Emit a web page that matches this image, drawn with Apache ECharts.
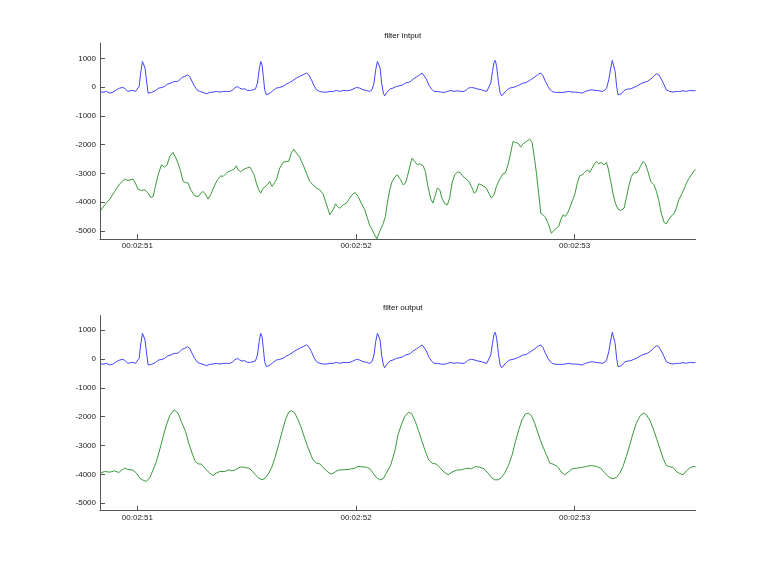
<!DOCTYPE html>
<html>
<head>
<meta charset="utf-8">
<script src="https://cdn.jsdelivr.net/npm/echarts@6/dist/echarts.min.js"></script>
<style>html,body{margin:0;padding:0;background:#fff;}#c{width:769px;height:574px;}</style>
</head>
<body>
<div id="c"></div>
<script>
// time in seconds (00:02:50 = 170 s)
const timeTicks = [171, 172, 173];
const timeTickLabels = ['00:02:51', '00:02:52', '00:02:53'];
const valueTicks = [-5000, -4000, -3000, -2000, -1000, 0, 1000];
const titles = ['filter intput', 'filter output'];

// blue trace (same in both panels)
const ecgSignal = [
[170.829,-151],[170.843,-185],[170.858,-151],[170.874,-209],[170.889,-174],[170.904,-93],[170.919,-35],[170.935,-12],[170.945,-70],[170.957,-151],[170.968,-127],[170.980,-116],[170.991,-151],[171.000,-162],[171.008,23],[171.015,487],[171.023,892],[171.029,927],[171.035,660],[171.043,139],[171.049,-209],[171.057,-266],[171.064,-185],[171.076,-151],[171.087,-93],[171.098,-35],[171.113,-12],[171.125,23],[171.137,104],[171.153,139],[171.168,197],[171.183,197],[171.194,255],[171.204,336],[171.217,371],[171.229,429],[171.239,371],[171.250,197],[171.262,23],[171.275,-116],[171.285,-151],[171.300,-185],[171.316,-232],[171.331,-185],[171.346,-174],[171.361,-151],[171.377,-174],[171.392,-151],[171.407,-151],[171.422,-151],[171.433,-116],[171.445,-35],[171.457,23],[171.468,-35],[171.479,-70],[171.491,-58],[171.503,-116],
[171.518,-116],[171.529,-93],[171.540,-70],[171.549,139],[171.557,603],[171.564,892],[171.570,776],[171.576,371],[171.582,-93],[171.590,-266],[171.598,-301],[171.607,-209],[171.621,-116],[171.636,-35],[171.651,-12],[171.666,23],[171.681,104],[171.697,162],[171.712,232],[171.727,313],[171.742,371],[171.758,429],[171.773,487],[171.784,429],[171.796,255],[171.808,46],[171.819,-93],[171.834,-151],[171.849,-174],[171.864,-174],[171.880,-151],[171.895,-151],[171.910,-116],[171.925,-151],[171.941,-116],[171.956,-127],[171.971,-116],[171.986,-70],[172.002,-12],[172.017,-35],[172.032,-93],[172.047,-116],[172.063,-151],[172.073,-93],[172.082,139],[172.090,603],[172.098,892],[172.104,927],[172.110,660],[172.117,139],[172.125,-209],[172.131,-301],[172.139,-209],[172.154,-70],[172.169,-35],[172.185,23],[172.201,46],
[172.215,81],[172.226,139],[172.238,162],[172.250,197],[172.261,278],[172.276,348],[172.291,429],[172.302,487],[172.311,429],[172.322,278],[172.332,81],[172.345,-70],[172.357,-151],[172.372,-151],[172.387,-174],[172.403,-185],[172.418,-151],[172.433,-116],[172.448,-151],[172.464,-127],[172.479,-151],[172.494,-151],[172.505,-93],[172.515,-35],[172.528,-12],[172.543,-35],[172.558,-70],[172.573,-93],[172.586,-127],[172.598,-151],[172.607,-93],[172.616,139],[172.624,545],[172.631,857],[172.637,927],[172.643,718],[172.651,197],[172.659,-209],[172.666,-301],[172.674,-232],[172.688,-116],[172.703,-35],[172.718,-12],[172.733,23],[172.749,81],[172.764,139],[172.779,162],[172.794,232],[172.810,313],[172.825,394],[172.835,452],[172.845,487],[172.855,394],[172.866,197],[172.878,23],
[172.886,-70],[172.896,-151],[172.912,-185],[172.927,-185],[172.942,-185],[172.957,-174],[172.973,-151],[172.988,-174],[173.003,-174],[173.018,-185],[173.034,-209],[173.049,-151],[173.064,-116],[173.079,-93],[173.095,-116],[173.110,-127],[173.125,-151],[173.137,-116],[173.146,-35],[173.156,255],[173.165,660],[173.172,927],[173.178,892],[173.185,545],[173.192,23],[173.198,-266],[173.206,-324],[173.213,-232],[173.226,-116],[173.241,-70],[173.256,-58],[173.271,-12],[173.287,46],[173.302,116],[173.317,162],[173.332,197],[173.348,278],[173.363,394],[173.374,463],[173.384,429],[173.396,278],[173.409,81],[173.419,-93],[173.434,-151],[173.450,-174],[173.465,-151],[173.480,-151],[173.495,-127],[173.511,-151],[173.526,-116],[173.541,-127],[173.553,-127]
];

// green trace, filter input
const greenInput = [
[170.829,-4322],[170.851,-4090],[170.874,-3893],[170.896,-3627],[170.919,-3361],[170.942,-3198],[170.957,-3244],[170.965,-3279],[170.980,-3198],[170.991,-3337],[171.003,-3546],[171.018,-3592],[171.034,-3569],[171.049,-3685],[171.061,-3835],[171.072,-3801],[171.082,-3453],[171.095,-3048],[171.110,-2700],[171.125,-2781],[171.136,-2700],[171.148,-2410],[171.163,-2271],[171.174,-2433],[171.186,-2642],[171.198,-2932],[171.209,-3279],[171.220,-3314],[171.232,-3337],[171.244,-3569],[171.262,-3777],[171.278,-3801],[171.290,-3685],[171.300,-3627],[171.311,-3708],[171.323,-3893],[171.335,-3743],[171.351,-3453],[171.366,-3221],[171.381,-3082],[171.392,-3105],[171.407,-2990],[171.418,-2932],[171.430,-2897],[171.442,-2850],[171.453,-2734],[171.460,-2873],[171.473,-2943],[171.483,-2873],[171.499,-2816],[171.515,-2781],
[171.521,-2850],[171.534,-3048],[171.544,-3337],[171.555,-3569],[171.564,-3685],[171.575,-3511],[171.590,-3430],[171.605,-3279],[171.616,-3453],[171.625,-3511],[171.636,-3221],[171.651,-2816],[171.666,-2619],[171.681,-2584],[171.692,-2584],[171.704,-2294],[171.715,-2155],[171.727,-2294],[171.742,-2433],[171.758,-2700],[171.773,-2990],[171.788,-3279],[171.803,-3395],[171.819,-3511],[171.834,-3569],[171.849,-3708],[171.864,-4055],[171.880,-4438],[171.895,-4264],[171.906,-4055],[171.915,-4148],[171.925,-4206],[171.941,-4090],[171.956,-4032],[171.971,-3858],[171.986,-3708],[171.997,-3662],[172.009,-3801],[172.024,-4032],[172.040,-4264],[172.052,-4554],[172.063,-4820],[172.073,-4936],[172.085,-5133],[172.096,-5272],[172.108,-5017],[172.124,-4751],[172.134,-4496],[172.143,-4032],[172.154,-3569],[172.165,-3279],[172.177,-3128],[172.189,-3048],
[172.204,-3221],[172.215,-3395],[172.226,-3337],[172.235,-3105],[172.246,-2758],[172.256,-2468],[172.268,-2584],[172.281,-2700],[172.291,-2665],[172.307,-2734],[172.317,-2932],[172.329,-3453],[172.342,-3893],[172.352,-4032],[172.363,-3743],[172.372,-3511],[172.383,-3569],[172.393,-3858],[172.406,-4055],[172.418,-4090],[172.428,-3858],[172.439,-3337],[172.451,-3048],[172.464,-2955],[172.476,-2966],[172.489,-3105],[172.505,-3198],[172.515,-3279],[172.528,-3453],[172.540,-3685],[172.550,-3627],[172.561,-3360],[172.573,-3395],[172.585,-3453],[172.596,-3511],[172.607,-3685],[172.619,-3858],[172.631,-3743],[172.642,-3453],[172.657,-3198],[172.672,-3013],[172.683,-2990],[172.695,-2700],[172.707,-2294],[172.718,-1889],[172.729,-1923],[172.741,-1947],[172.753,-2086],[172.764,-1970],[172.779,-1889],[172.794,-1808],[172.805,-1923],[172.814,-2352],[172.825,-2990],[172.835,-3685],[172.845,-4380],[172.855,-4438],[172.866,-4519],[172.878,-4728],
[172.886,-4901],[172.893,-5075],[172.906,-4982],[172.916,-4901],[172.927,-4843],[172.936,-4612],[172.947,-4438],[172.957,-4496],[172.967,-4380],[172.977,-4206],[172.988,-3974],[173.000,-3743],[173.012,-3337],[173.023,-3082],[173.034,-3048],[173.046,-2966],[173.058,-2873],[173.069,-2966],[173.079,-2816],[173.088,-2700],[173.099,-2584],[173.110,-2665],[173.122,-2619],[173.134,-2700],[173.145,-2619],[173.153,-2816],[173.165,-3279],[173.175,-3685],[173.186,-4032],[173.198,-4241],[173.210,-4287],[173.226,-4206],[173.236,-3858],[173.247,-3453],[173.259,-3105],[173.271,-2966],[173.282,-2990],[173.293,-2873],[173.302,-2734],[173.313,-2584],[173.323,-2665],[173.335,-2932],[173.348,-3279],[173.363,-3395],[173.374,-3627],[173.384,-3916],[173.396,-4380],[173.409,-4704],[173.419,-4751],[173.430,-4612],[173.442,-4473],[173.454,-4403],[173.465,-4206],[173.476,-3916],[173.488,-3743],[173.500,-3546],[173.511,-3337],[173.521,-3198],[173.534,-3048],[173.546,-2897],[173.553,-2873]
];

// green trace, filter output
const greenOutput = [
[170.829,-3959],[170.851,-3902],[170.874,-3925],[170.896,-3879],[170.915,-3936],[170.930,-3844],[170.942,-3786],[170.957,-3832],[170.980,-3855],[170.996,-3959],[171.011,-4133],[171.026,-4202],[171.041,-4248],[171.057,-4110],[171.072,-3844],[171.087,-3555],[171.102,-3150],[171.118,-2688],[171.133,-2283],[171.148,-1960],[171.168,-1763],[171.186,-1879],[171.201,-2168],[171.220,-2514],[171.235,-2919],[171.250,-3266],[171.265,-3555],[171.278,-3636],[171.293,-3647],[171.308,-3786],[171.331,-3959],[171.346,-4040],[171.361,-3959],[171.377,-3902],[171.400,-3902],[171.418,-3844],[171.430,-3879],[171.445,-3855],[171.460,-3786],[171.476,-3740],[171.491,-3763],[171.509,-3786],[171.525,-3879],[171.540,-4017],[171.555,-4133],[171.570,-4191],[171.585,-4133],[171.601,-3959],[171.616,-3728],[171.631,-3381],[171.646,-2977],[171.662,-2514],[171.677,-2110],[171.692,-1844],[171.704,-1786],[171.720,-1879],[171.735,-2110],[171.750,-2399],[171.765,-2746],[171.784,-3150],[171.803,-3497],[171.819,-3613],[171.834,-3636],[171.849,-3763],[171.872,-3925],[171.887,-3994],[171.903,-3925],[171.918,-3855],[171.941,-3844],[171.964,-3832],[171.979,-3809],[171.994,-3786],[172.009,-3728],[172.024,-3740],[172.047,-3751],[172.063,-3809],[172.078,-3959],[172.093,-4110],[172.108,-4191],[172.124,-4156],[172.139,-3959],[172.159,-3670],[172.177,-3208],[172.192,-2630],
[172.207,-2283],[172.223,-1994],[172.241,-1844],[172.256,-1913],[172.271,-2168],[172.287,-2514],[172.302,-2861],[172.317,-3208],[172.332,-3497],[172.348,-3613],[172.368,-3647],[172.383,-3763],[172.403,-3925],[172.421,-4017],[172.439,-3925],[172.459,-3855],[172.482,-3844],[172.497,-3809],[172.512,-3786],[172.528,-3809],[172.546,-3728],[172.566,-3751],[172.585,-3809],[172.604,-3959],[172.619,-4110],[172.634,-4191],[172.649,-4191],[172.665,-4110],[172.680,-3959],[172.698,-3670],[172.714,-3324],[172.729,-2861],[172.744,-2457],[172.759,-2110],[172.774,-1913],[172.787,-1879],[172.802,-1960],[172.817,-2225],[172.832,-2572],[172.851,-2977],[172.871,-3324],[172.886,-3613],[172.901,-3647],[172.921,-3728],[172.939,-3925],[172.954,-4017],[172.970,-3925],[172.988,-3809],[173.008,-3786],[173.031,-3763],[173.053,-3728],[173.076,-3694],[173.099,-3728],[173.119,-3786],[173.134,-3925],[173.153,-4075],[173.171,-4156],[173.191,-4110],[173.206,-3959],[173.221,-3728],[173.236,-3381],[173.252,-2977],[173.267,-2572],[173.282,-2225],[173.300,-1960],[173.316,-1879],[173.328,-1936],[173.343,-2110],[173.358,-2399],[173.374,-2746],[173.389,-3092],[173.404,-3439],[173.419,-3694],[173.435,-3740],[173.450,-3763],[173.465,-3902],[173.480,-3971],[173.496,-4017],[173.511,-3879],[173.526,-3786],[173.541,-3728],[173.553,-3740]
];

const FONT = 'Liberation Sans, Arial, sans-serif';
const axisColor = '#555';
const labelColor = '#222';

function xAxisCfg(gridIndex) {
  return {
    type: 'value', gridIndex: gridIndex,
    min: 170.829, max: 173.553,
    splitLine: { show: false },
    axisLine: { onZero: false, lineStyle: { color: axisColor, width: 1 } },
    axisTick: { inside: true, length: 5, customValues: timeTicks, lineStyle: { color: axisColor } },
    axisLabel: {
      customValues: timeTicks, margin: 3, fontSize: 8, fontFamily: FONT, color: labelColor,
      formatter: function (v) { const i = timeTicks.indexOf(Math.round(v)); return i >= 0 ? timeTickLabels[i] : ''; }
    }
  };
}
function yAxisCfg(gridIndex, min, max) {
  return {
    type: 'value', gridIndex: gridIndex, min: min, max: max,
    splitLine: { show: false },
    axisLine: { show: true, onZero: false, lineStyle: { color: axisColor, width: 1 } },
    axisTick: { show: true, inside: true, length: 5, customValues: valueTicks, lineStyle: { color: axisColor } },
    axisLabel: {
      customValues: valueTicks, margin: 4, fontSize: 8, fontFamily: FONT, color: labelColor,
      formatter: function (v) { return String(Math.round(v)); }
    }
  };
}
function lineSeries(data, color, xi) {
  return {
    type: 'line', data: data, xAxisIndex: xi, yAxisIndex: xi,
    showSymbol: false, symbol: 'none', smooth: false,
    lineStyle: { color: color, width: 1 }, emphasis: { disabled: true }, silent: true
  };
}

const chart = echarts.init(document.getElementById('c'), null, { renderer: 'canvas' });
chart.setOption({
  animation: false,
  backgroundColor: '#fff',
  title: [
    { text: titles[0], left: 397.8, top: 27, textAlign: 'center', textStyle: { fontSize: 8, fontWeight: 'normal', fontFamily: FONT, color: '#111' } },
    { text: titles[1], left: 397.8, top: 299, textAlign: 'center', textStyle: { fontSize: 8, fontWeight: 'normal', fontFamily: FONT, color: '#111' } }
  ],
  grid: [
    { left: 100, top: 43, width: 595.6, height: 196 },
    { left: 100, top: 315.7, width: 595.6, height: 195 }
  ],
  xAxis: [xAxisCfg(0), xAxisCfg(1)],
  yAxis: [yAxisCfg(0, -5278, 1532), yAxisCfg(1, -5262, 1502)],
  series: [
    lineSeries(ecgSignal, '#4444ff', 0),
    lineSeries(greenInput, '#3a9a3a', 0),
    lineSeries(ecgSignal, '#4444ff', 1),
    lineSeries(greenOutput, '#3a9a3a', 1)
  ]
});
</script>
</body>
</html>
